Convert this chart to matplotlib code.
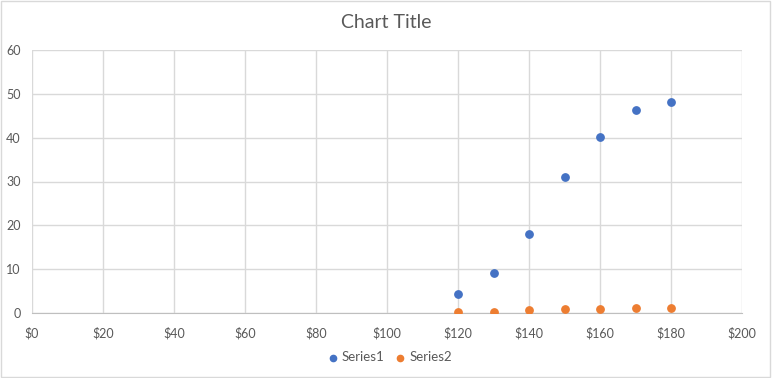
import matplotlib.pyplot as plt
from matplotlib.ticker import FuncFormatter
from matplotlib.patches import Rectangle

plt.rcParams['font.family'] = ['Lato', 'DejaVu Sans']

price = [120, 130, 140, 150, 160, 170, 180]
series1 = [4.3, 9.1, 18.1, 31.1, 40.1, 46.3, 48.1]
series2 = [0.2, 0.2, 0.6, 0.9, 0.9, 1.2, 1.2]

fig = plt.figure(figsize=(7.72, 3.78), dpi=100)
ax = fig.add_axes([32 / 772, 1 - 313 / 378, 710 / 772, 263 / 378])

ax.scatter(price, series1, s=28, color='#4472c4', label='Series1', zorder=3)
ax.scatter(price, series2, s=28, color='#ed7d31', label='Series2', zorder=3)

ax.set_xlim(0, 200)
ax.set_ylim(0, 60)
ax.set_xticks(range(0, 201, 20))
ax.set_yticks(range(0, 61, 10))
ax.xaxis.set_major_formatter(FuncFormatter(lambda v, p: '$%d' % v))
ax.grid(True, color='#d9d9d9', linewidth=1)
ax.set_axisbelow(True)
for s in ['left', 'top', 'right']:
    ax.spines[s].set_visible(False)
ax.spines['bottom'].set_color('#bfbfbf')
ax.tick_params(length=0, labelsize=9, colors='#595959', pad=10)
ax.tick_params(axis='y', pad=8)

fig.suptitle('Chart Title', y=0.963, fontsize=14, color='#595959')
fig.legend(loc='center', bbox_to_anchor=(0.505, 1 - 357 / 378), ncol=2, frameon=False,
           fontsize=9.5, labelcolor='#595959', handlelength=0.7, handletextpad=0.3,
           columnspacing=0.9, markerscale=0.85)
fig.patches.append(Rectangle((0.001, 0.002), 0.997, 0.995, transform=fig.transFigure,
                             fill=False, edgecolor='#d9d9d9', linewidth=1))

plt.savefig('out.png', dpi=100)
